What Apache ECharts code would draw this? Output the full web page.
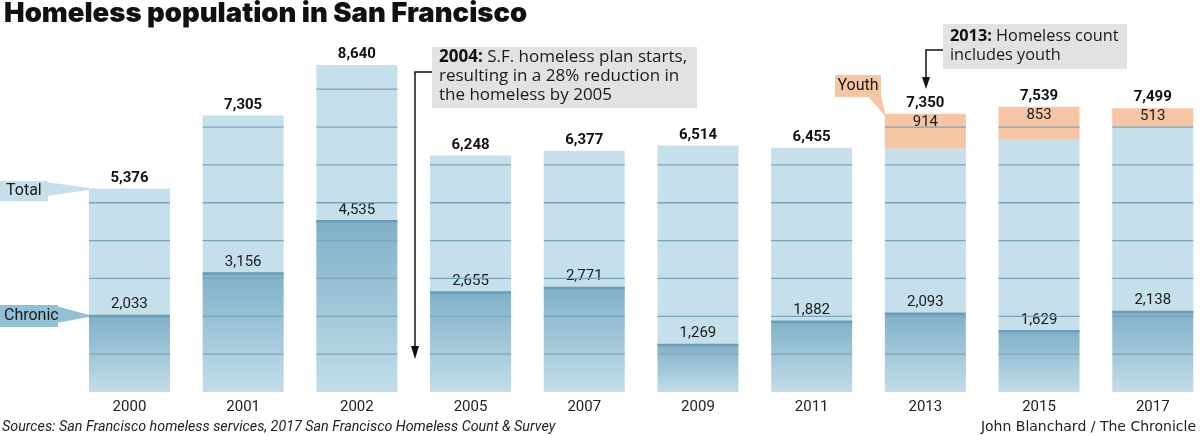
<!DOCTYPE html>
<html><head><meta charset="utf-8">
<script src="https://cdn.jsdelivr.net/npm/echarts@6/dist/echarts.min.js"></script>
<style>html,body{margin:0;padding:0;background:#fff}#c{width:1200px;height:436px}</style>
</head><body><div id="c"></div>
<script>
const years = ['2000','2001','2002','2005','2007','2009','2011','2013','2015','2017'];
const totals = [5376,7305,8640,6248,6377,6514,6455,7350,7539,7499];
const chronic = [2033,3156,4535,2655,2771,1269,1882,2093,1629,2138];
const youth = [null,null,null,null,null,null,null,914,853,513];
const gridStep = 1000;

const other = totals.map((t,i)=> t - chronic[i] - (youth[i]||0));
const fmt = v => Number(v).toLocaleString('en-US');
const FONT = 'Roboto';
const AFONT = 'Open Sans';
const BW = 81;

const chart = echarts.init(document.getElementById('c'));
chart.setOption({
  animation:false,
  title:{text:'Homeless population in San Francisco',left:-1,top:-5,
    textStyle:{fontFamily:'Inter',fontWeight:900,fontSize:27.5,color:'#111'}},
  grid:{left:72.6,width:1137,top:13.5,bottom:44,outerBoundsMode:'none',containLabel:false},
  xAxis:{type:'category',data:years,axisLine:{show:false},axisTick:{show:false},
    axisLabel:{fontFamily:FONT,fontSize:15,color:'#222',margin:8}},
  yAxis:{type:'value',min:0,max:10000,show:false,splitLine:{show:false}},
  series:[
    {type:'bar',name:'Chronic',stack:'a',data:chronic,barWidth:BW,
      itemStyle:{color:new echarts.graphic.LinearGradient(0,0,0,1,[{offset:0,color:'#7fb0c8'},{offset:1,color:'#c2dde8'}])},
      label:{show:true,position:'top',distance:3,formatter:p=>fmt(p.value),fontFamily:FONT,fontSize:15,color:'#1a1a1a'}},
    {type:'bar',name:'Other',stack:'a',data:other,barWidth:BW,itemStyle:{color:'#c5e0ea'}},
    {type:'bar',name:'Youth',stack:'a',data:youth,barWidth:BW,itemStyle:{color:'#f6c5a3'},
      label:{show:true,position:'insideTop',distance:1,formatter:p=>fmt(p.value),fontFamily:FONT,fontSize:15,color:'#1a1a1a'}},
    {type:'bar',name:'Total',data:totals,barWidth:BW,barGap:'-100%',itemStyle:{color:'rgba(0,0,0,0)'},z:1,
      label:{show:true,position:'top',distance:3,formatter:p=>fmt(p.value),fontFamily:FONT,fontWeight:'bold',fontSize:15,color:'#111'}},
    {type:'custom',name:'lines',z:3,silent:true,
      data:years.map((y,i)=>[i,totals[i],chronic[i]]),
      renderItem:function(params,api){
        const i=api.value(0), t=api.value(1), c=api.value(2);
        const ch=[];
        for(let k=gridStep;k<t;k+=gridStep){
          const p=api.coord([i,k]);
          ch.push({type:'line',shape:{x1:p[0]-BW/2,y1:p[1],x2:p[0]+BW/2,y2:p[1]},style:{stroke:'#7aa5b9',lineWidth:1.3}});
        }
        const pc=api.coord([i,c]);
        ch.push({type:'line',shape:{x1:pc[0]-BW/2,y1:pc[1]+1,x2:pc[0]+BW/2,y2:pc[1]+1},style:{stroke:'#6b9db6',lineWidth:2.5}});
        return {type:'group',children:ch};
      }}
  ],
  graphic:[
    {type:'polygon',shape:{points:[[46,182],[89,188],[89,190],[46,196]]},style:{fill:'#c5e0ea'}},
    {type:'rect',shape:{x:0,y:181,width:48,height:20},style:{fill:'#c5e0ea'}},
    {type:'text',x:6,y:191,style:{text:'Total',fontFamily:FONT,fontSize:16,fill:'#1a1a1a',verticalAlign:'middle'}},
    {type:'polygon',shape:{points:[[56,306],[89,315],[89,317],[56,323]]},style:{fill:'#90c1d5'}},
    {type:'rect',shape:{x:0,y:305,width:58,height:22},style:{fill:'#90c1d5'}},
    {type:'text',x:4,y:316,style:{text:'Chronic',fontFamily:FONT,fontSize:16,fill:'#1a1a1a',verticalAlign:'middle'}},
    {type:'polygon',shape:{points:[[868,96],[881,96],[886,117]]},style:{fill:'#f6c5a3'}},
    {type:'rect',shape:{x:835,y:75,width:46,height:22},style:{fill:'#f6c5a3'}},
    {type:'text',x:858,y:86,style:{text:'Youth',fontFamily:FONT,fontSize:16,fill:'#1a1a1a',align:'center',verticalAlign:'middle'}},
    {type:'rect',shape:{x:432,y:47,width:265,height:61},style:{fill:'#e2e2e2'}},
    {type:'text',x:439,y:48,style:{
      text:'{b|2004:} S.F. homeless plan starts,\nresulting in a 28% reduction in\nthe homeless by 2005',
      fontFamily:AFONT,fontSize:17,lineHeight:19,fill:'#1a1a1a',
      rich:{b:{fontFamily:AFONT,fontSize:17,fontWeight:'bold',fill:'#111',lineHeight:19}}}},
    {type:'polyline',shape:{points:[[432,72],[415,72],[415,350]]},style:{stroke:'#111',lineWidth:1.5,fill:null}},
    {type:'polygon',shape:{points:[[411,346],[419,346],[415,359]]},style:{fill:'#111'}},
    {type:'rect',shape:{x:943,y:24,width:184,height:45},style:{fill:'#e2e2e2'}},
    {type:'text',x:950,y:27,style:{
      text:'{b|2013:} Homeless count\nincludes youth',
      fontFamily:AFONT,fontSize:16.3,lineHeight:19,fill:'#1a1a1a',
      rich:{b:{fontFamily:AFONT,fontSize:16.3,fontWeight:'bold',fill:'#111',lineHeight:19}}}},
    {type:'polyline',shape:{points:[[943,50],[926,50],[926,80]]},style:{stroke:'#111',lineWidth:1.5,fill:null}},
    {type:'polygon',shape:{points:[[922,77],[930,77],[926,89]]},style:{fill:'#111'}},
    {type:'text',x:2,y:427,style:{text:'Sources: San Francisco homeless services, 2017 San Francisco Homeless Count & Survey',
      fontFamily:FONT,fontStyle:'italic',fontSize:14.3,fill:'#222',verticalAlign:'middle'}},
    {type:'text',x:1196,y:427,style:{text:'John Blanchard / The Chronicle',
      fontFamily:'DejaVu Sans',fontSize:14,fill:'#222',align:'right',verticalAlign:'middle'}}
  ]
});
</script></body></html>
